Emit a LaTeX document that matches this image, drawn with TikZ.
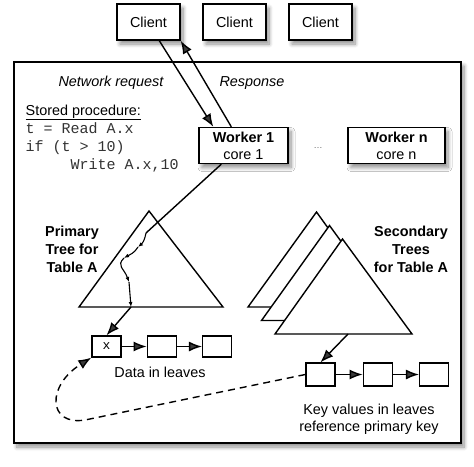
\documentclass[tikz,border=0pt]{standalone}
\usepackage{fontspec}
\setmainfont{Liberation Sans}
\setmonofont{Liberation Mono}
\usetikzlibrary{arrows.meta,shadows.blur,positioning}

\newcommand\codefont{\fontsize{15}{18}\selectfont\ttfamily\spaceskip=9pt\relax}

\tikzset{
  shade box/.style={blur shadow={shadow xshift=3pt, shadow yshift=-4pt, shadow blur steps=8, shadow blur radius=4pt, shadow opacity=45}},
  clientbox/.style={draw, line width=1.4pt, fill=white, shade box, minimum width=63pt, minimum height=36pt, inner sep=0pt},
  workerbox/.style={draw, line width=1.4pt, fill=white, shade box, minimum height=36pt, inner sep=0pt, align=center},
  leaf/.style={draw, line width=1.3pt, fill=white, minimum width=29pt, minimum height=21pt, inner sep=0pt},
  big tip/.style={-{Latex[length=13pt,width=10pt]}},
  small tip/.style={-{Latex[length=5pt,width=4pt]}},
  codeline/.style={anchor=base west, inner sep=0pt, font=\codefont, text=black!80},
  treelabel/.style={align=center, font=\fontsize{14.4}{18}\selectfont\bfseries},
}

\begin{document}
\begin{tikzpicture}[x=1pt, y=-1pt, line width=1.4pt, font=\fontsize{14.4}{17}\selectfont]
    \useasboundingbox (0,0) rectangle (474,466);

    \draw[line width=1.8pt, fill=white, shade box] (14,62) rectangle (461,443);

    \node[clientbox] (cl1) at (148.5,22) {Client};
    \node[clientbox] (cl2) at (234.5,22) {Client};
    \node[clientbox] (cl3) at (320.5,22) {Client};

    \node[font=\fontsize{14.4}{17}\selectfont\itshape] (req) at (111,83) {Network request};
    \node[font=\fontsize{14.4}{17}\selectfont\itshape] (resp) at (252,83) {Response};

    \node[anchor=base west, inner sep=0pt] (proc) at (25,115) {\underline{Stored procedure:}};
    \node[codeline] (code1) at (25,133) {t = Read A.x};
    \node[codeline] (code2) at (25,151) {if (t > 10)};
    \node[codeline] (code3) at (70,169) {Write A.x,10};

    \node[workerbox, minimum width=89pt] (w1) at (243.5,145.5) {\textbf{Worker 1}\\core 1};
    \node[workerbox, minimum width=97pt] (wn) at (396.5,145.5) {\textbf{Worker n}\\core n};
    \node[text=black!60, font=\small] (dots) at (318,148) {\dots};

    \draw[big tip] ([xshift=43pt]cl1.south west) -- ([xshift=15pt]w1.north west);
    \draw[big tip] ([xshift=33pt]w1.north west) -- (cl1.south east);

    % primary tree
    \coordinate (ptop) at (149,211);
    \draw[fill=white] (ptop) -- (79,307) -- (223,307) -- cycle;
    \node[treelabel] (plabel) at (72,249) {Primary\\Tree for\\Table A};

    % secondary trees
    \foreach \k in {0,1,2} {
      \draw[fill=white] (316.5+13*\k,212+13.5*\k) -- (248+13.5*\k,307+13.5*\k) -- (385+13.5*\k,307+13.5*\k) -- cycle;
    }
    \node[treelabel] (slabel) at (411,249) {Secondary\\Trees\\for Table A};

    % leaves
    \node[leaf, font=\fontsize{13}{15}\selectfont\ttfamily] (x) at (106.5,346.5) {x};
    \node[leaf, right=25pt of x] (d2) {};
    \node[leaf, right=25pt of d2] (d3) {};
    \draw[big tip] (x) -- (d2);
    \draw[big tip] (d2) -- (d3);
    \node (dlabel) at (160,372) {Data in leaves};

    \node[leaf, minimum height=23pt] (s1) at (320.5,374.5) {};
    \node[leaf, minimum height=23pt, right=27pt of s1] (s2) {};
    \node[leaf, minimum height=23pt, right=26pt of s2] (s3) {};
    \draw[big tip] (s1) -- (s2);
    \draw[big tip] (s2) -- (s3);
    \node[align=center] (klabel) at (369,419) {Key values in leaves\\reference primary key};

    % lookup path
    \coordinate (p0) at (146,233);
    \coordinate (p1) at (138,247);
    \coordinate (p2) at (124,258);
    \coordinate (p3) at (129,282);
    \coordinate (p4) at (131,307);
    \draw ([xshift=23pt]w1.south west) -- (p0);
    \draw[small tip, line width=1.1pt] (p0) to[out=-100,in=40] (p1);
    \draw[small tip, line width=1.1pt] (p1) to[out=-120,in=30] (p2);
    \draw[small tip, line width=1.1pt] (p2) .. controls (116,266) and (124,268) .. (p3);
    \draw[small tip, line width=1.1pt] (p3) -- (p4);
    \draw[big tip] (p4) -- (x.north);

    \coordinate (sbase) at (348,334);
    \draw[big tip] (sbase) -- (s1.north);

    \coordinate (bend) at (85,420);
    \draw[big tip, dashed, dash pattern=on 7pt off 5pt] (s1.west) -- (bend) .. controls (48,426) and (46,386) .. (x.south west);
\end{tikzpicture}
\end{document}
